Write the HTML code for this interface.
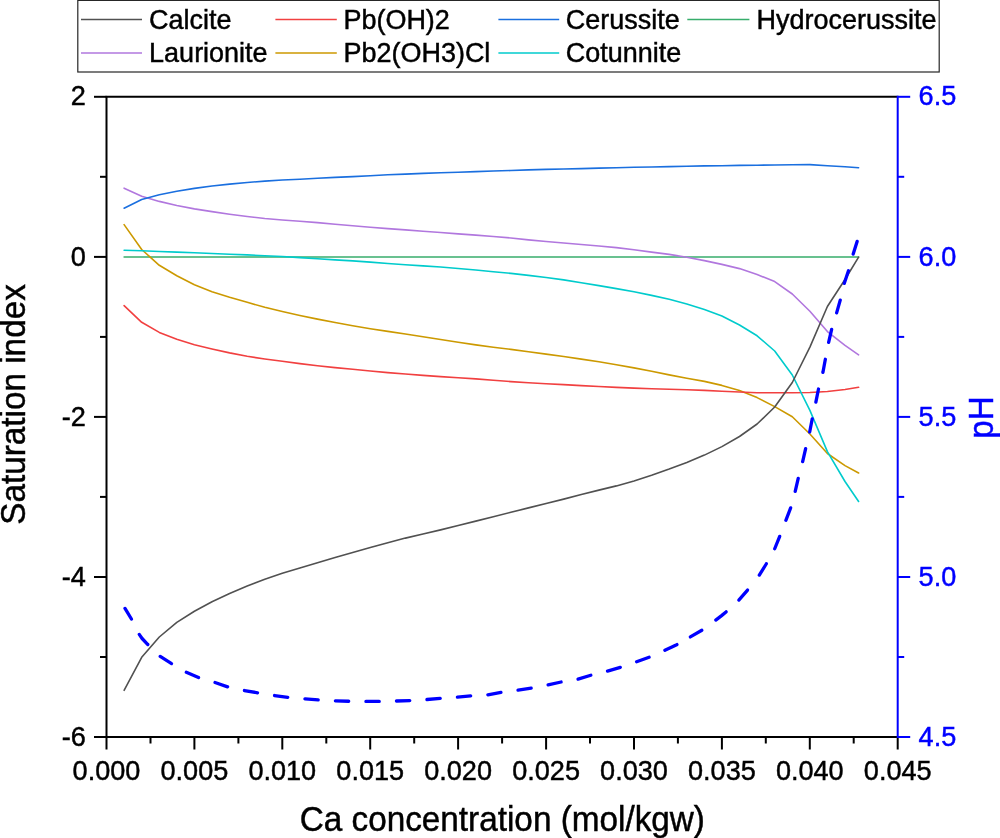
<!DOCTYPE html><html><head><meta charset="utf-8"><title>Saturation index vs Ca concentration</title><style>html,body{margin:0;padding:0;background:#fff;}svg{display:block;}text{font-family:'Liberation Sans', Arial, Helvetica, sans-serif;stroke-width:0.45px;}</style></head><body>
<svg width="1000" height="838" viewBox="0 0 1000 838">
<rect x="0" y="0" width="1000" height="838" fill="#fff"/>
<g fill="none" stroke-width="1.6" stroke-linejoin="round" stroke-linecap="round">
<line x1="124.1" y1="257.0" x2="858.6" y2="257.0" stroke="#37AD6B"/>
<polyline stroke="#CC9900" points="124.1,224.6 141.7,249.5 159.3,265.3 176.8,275.7 194.4,284.8 212.0,291.8 229.6,297.3 247.2,302.3 264.8,307.3 282.3,311.5 299.9,315.5 317.5,319.1 335.1,322.5 352.7,325.7 370.3,328.7 387.8,331.4 405.4,334.0 423.0,336.8 440.6,339.5 458.2,342.2 475.8,344.9 493.3,347.3 510.9,349.4 528.5,351.7 546.1,354.1 563.7,356.5 581.3,359.1 598.9,361.8 616.4,364.8 634.0,367.9 651.6,371.3 669.2,374.9 686.8,378.2 704.4,381.4 721.9,385.4 739.5,390.4 757.1,397.6 774.7,406.6 792.3,416.8 809.9,434.0 827.4,453.5 845.0,465.6 858.6,473.0"/>
<polyline stroke="#F14040" points="124.1,305.6 141.7,322.3 159.3,332.4 176.8,339.3 194.4,344.7 212.0,349.0 229.6,352.9 247.2,356.3 264.8,359.0 282.3,361.3 299.9,363.6 317.5,365.7 335.1,367.6 352.7,369.3 370.3,371.0 387.8,372.6 405.4,374.0 423.0,375.4 440.6,376.6 458.2,377.8 475.8,378.9 493.3,380.2 510.9,381.6 528.5,382.7 546.1,383.7 563.7,384.6 581.3,385.6 598.9,386.5 616.4,387.4 634.0,388.1 651.6,388.7 669.2,389.3 686.8,389.8 704.4,390.4 721.9,391.2 739.5,392.0 757.1,392.7 774.7,392.8 792.3,392.8 809.9,392.5 827.4,391.5 845.0,389.5 858.6,387.3"/>
<polyline stroke="#00CBCC" points="124.1,250.2 141.7,250.8 159.3,251.5 176.8,252.1 194.4,252.8 212.0,253.5 229.6,254.2 247.2,254.9 264.8,255.7 282.3,256.5 299.9,257.6 317.5,258.8 335.1,259.9 352.7,260.9 370.3,262.1 387.8,263.5 405.4,264.8 423.0,265.9 440.6,267.0 458.2,268.5 475.8,270.0 493.3,271.7 510.9,273.4 528.5,275.4 546.1,277.5 563.7,279.9 581.3,282.7 598.9,285.6 616.4,288.6 634.0,291.8 651.6,295.4 669.2,299.3 686.8,303.9 704.4,309.4 721.9,316.0 739.5,325.0 757.1,335.8 774.7,351.0 792.3,375.0 809.9,410.4 827.4,451.6 845.0,481.5 858.6,501.5"/>
<polyline stroke="#B177DE" points="124.1,188.2 141.7,196.3 159.3,201.4 176.8,205.5 194.4,208.9 212.0,211.6 229.6,214.2 247.2,216.5 264.8,218.5 282.3,220.0 299.9,221.2 317.5,222.6 335.1,224.2 352.7,225.7 370.3,227.2 387.8,228.6 405.4,229.9 423.0,231.2 440.6,232.5 458.2,233.9 475.8,235.1 493.3,236.5 510.9,238.0 528.5,239.9 546.1,241.5 563.7,243.0 581.3,244.5 598.9,246.0 616.4,247.6 634.0,249.8 651.6,252.1 669.2,254.4 686.8,257.2 704.4,260.6 721.9,264.4 739.5,268.6 757.1,274.5 774.7,281.6 792.3,294.0 809.9,311.2 827.4,331.6 845.0,345.4 858.6,354.8"/>
<polyline stroke="#1A6FDF" points="124.1,208.2 141.7,199.5 159.3,194.8 176.8,191.2 194.4,188.4 212.0,186.0 229.6,184.1 247.2,182.5 264.8,181.1 282.3,180.0 299.9,179.2 317.5,178.3 335.1,177.4 352.7,176.6 370.3,175.7 387.8,174.8 405.4,174.1 423.0,173.4 440.6,172.8 458.2,172.2 475.8,171.6 493.3,171.0 510.9,170.5 528.5,169.9 546.1,169.4 563.7,169.0 581.3,168.6 598.9,168.1 616.4,167.7 634.0,167.3 651.6,167.0 669.2,166.6 686.8,166.2 704.4,165.9 721.9,165.7 739.5,165.4 757.1,165.2 774.7,165.0 792.3,164.8 809.9,164.6 827.4,165.7 845.0,166.8 858.6,167.7"/>
<polyline stroke="#515151" points="124.1,690.3 141.7,657.3 159.3,637.0 176.8,622.4 194.4,611.3 212.0,601.8 229.6,593.6 247.2,586.0 264.8,579.2 282.3,573.3 299.9,568.0 317.5,562.7 335.1,557.4 352.7,552.4 370.3,547.6 387.8,542.8 405.4,538.1 423.0,534.0 440.6,529.9 458.2,525.5 475.8,521.1 493.3,516.7 510.9,512.3 528.5,507.9 546.1,503.5 563.7,499.1 581.3,494.5 598.9,490.1 616.4,485.9 634.0,480.9 651.6,475.3 669.2,469.1 686.8,462.4 704.4,455.1 721.9,446.6 739.5,436.5 757.1,424.0 774.7,407.0 792.3,382.5 809.9,347.1 827.4,306.5 845.0,279.5 858.6,257.2"/>
</g>
<polyline fill="none" stroke="#0000FF" stroke-width="3.3" stroke-linecap="round" stroke-linejoin="round" stroke-dasharray="13.3 17.24" stroke-dashoffset="0.90" points="125.0,608.4 131.6,619.3 139.4,634.6 142.1,638.5 147.6,644.3 159.8,656.2 171.2,663.4 185.8,672.1 198.9,677.7 214.9,682.5 228.1,687.0 244.4,690.5 258.6,693.0 274.4,695.5 288.6,697.5 305.1,698.8 319.4,700.0 335.6,700.8 349.9,701.3 365.6,701.4 380.1,701.4 396.4,701.0 410.6,700.5 426.9,699.5 441.1,698.3 457.5,697.2 471.3,695.9 487.4,694.9 501.7,692.3 518.1,690.2 531.6,688.1 547.7,685.0 561.5,681.9 577.6,679.3 591.4,675.1 607.0,671.2 620.5,667.3 635.6,662.1 649.1,657.2 664.2,650.7 676.7,644.7 684.4,640.3"/>
<polyline fill="none" stroke="#0000FF" stroke-width="3.3" stroke-linecap="round" stroke-linejoin="round" stroke-dasharray="13.3 17.24" stroke-dashoffset="23.72" points="684.4,640.3 690.2,637.0 702.0,630.2 715.6,620.2 721.6,615.6 726.0,612.0 738.4,600.6 747.6,590.0 754.0,581.9"/>
<polyline fill="none" stroke="#0000FF" stroke-width="3.3" stroke-linecap="round" stroke-linejoin="round" stroke-dasharray="13.3 17.24" stroke-dashoffset="21.92" points="754.0,581.9 759.0,575.6 766.2,564.0 774.6,549.0 779.6,536.6 785.6,521.0 790.8,507.5 795.1,491.8 798.3,478.0 802.6,461.9 805.8,448.0 809.6,432.4 812.2,419.0 815.8,402.4 818.6,388.5 823.0,372.0 825.4,359.0 828.6,342.5 831.8,328.7 836.6,313.0 840.6,298.8 844.4,283.0 848.7,270.0 853.2,254.0 858.2,238.0"/>
<g stroke="#000" stroke-width="2" fill="none" stroke-linecap="butt">
<path d="M105.5 96.8 H897.7"/>
<path d="M105.5 737.0 H897.7"/>
<path d="M106.5 96.8 V737.0"/>
<path d="M94.0 96.8 H106.5"/>
<path d="M100.0 176.8 H106.5"/>
<path d="M94.0 256.9 H106.5"/>
<path d="M100.0 336.9 H106.5"/>
<path d="M94.0 416.9 H106.5"/>
<path d="M100.0 496.9 H106.5"/>
<path d="M94.0 577.0 H106.5"/>
<path d="M100.0 657.0 H106.5"/>
<path d="M94.0 737.0 H106.5"/>
<path d="M106.5 737.0 V749.5"/>
<path d="M150.5 737.0 V743.5"/>
<path d="M194.4 737.0 V749.5"/>
<path d="M238.4 737.0 V743.5"/>
<path d="M282.3 737.0 V749.5"/>
<path d="M326.3 737.0 V743.5"/>
<path d="M370.2 737.0 V749.5"/>
<path d="M414.2 737.0 V743.5"/>
<path d="M458.1 737.0 V749.5"/>
<path d="M502.1 737.0 V743.5"/>
<path d="M546.1 737.0 V749.5"/>
<path d="M590.0 737.0 V743.5"/>
<path d="M634.0 737.0 V749.5"/>
<path d="M677.9 737.0 V743.5"/>
<path d="M721.9 737.0 V749.5"/>
<path d="M765.8 737.0 V743.5"/>
<path d="M809.8 737.0 V749.5"/>
<path d="M853.7 737.0 V743.5"/>
<path d="M897.7 737.0 V749.5"/>
</g>
<g stroke="#0000FF" stroke-width="2" fill="none">
<path d="M897.7 95.8 V738.0"/>
<path d="M897.7 96.8 H910.2"/>
<path d="M897.7 176.8 H904.2"/>
<path d="M897.7 256.9 H910.2"/>
<path d="M897.7 336.9 H904.2"/>
<path d="M897.7 416.9 H910.2"/>
<path d="M897.7 496.9 H904.2"/>
<path d="M897.7 577.0 H910.2"/>
<path d="M897.7 657.0 H904.2"/>
<path d="M897.7 737.0 H910.2"/>
</g>
<g font-size="27.1" fill="#000" stroke="#000">
<text transform="translate(85.8 105.4) scale(1 1.040)" text-anchor="end">2</text>
<text transform="translate(85.8 265.5) scale(1 1.040)" text-anchor="end">0</text>
<text transform="translate(85.8 425.5) scale(1 1.040)" text-anchor="end">-2</text>
<text transform="translate(85.8 585.6) scale(1 1.040)" text-anchor="end">-4</text>
<text transform="translate(85.8 745.6) scale(1 1.040)" text-anchor="end">-6</text>
<text transform="translate(106.5 780.0) scale(1 1.040)" text-anchor="middle">0.000</text>
<text transform="translate(194.4 780.0) scale(1 1.040)" text-anchor="middle">0.005</text>
<text transform="translate(282.3 780.0) scale(1 1.040)" text-anchor="middle">0.010</text>
<text transform="translate(370.2 780.0) scale(1 1.040)" text-anchor="middle">0.015</text>
<text transform="translate(458.1 780.0) scale(1 1.040)" text-anchor="middle">0.020</text>
<text transform="translate(546.1 780.0) scale(1 1.040)" text-anchor="middle">0.025</text>
<text transform="translate(634.0 780.0) scale(1 1.040)" text-anchor="middle">0.030</text>
<text transform="translate(721.9 780.0) scale(1 1.040)" text-anchor="middle">0.035</text>
<text transform="translate(809.8 780.0) scale(1 1.040)" text-anchor="middle">0.040</text>
<text transform="translate(897.7 780.0) scale(1 1.040)" text-anchor="middle">0.045</text>
</g>
<g font-size="27.1" fill="#0000FF" stroke="#0000FF">
<text transform="translate(918.6 105.4) scale(1 1.040)">6.5</text>
<text transform="translate(918.6 265.5) scale(1 1.040)">6.0</text>
<text transform="translate(918.6 425.5) scale(1 1.040)">5.5</text>
<text transform="translate(918.6 585.6) scale(1 1.040)">5.0</text>
<text transform="translate(918.6 745.6) scale(1 1.040)">4.5</text>
</g>
<text font-size="33.3" transform="translate(502.3 830.6) scale(1 1.04)" stroke="#000" text-anchor="middle">Ca concentration (mol/kgw)</text>
<text font-size="33.3" transform="translate(24.5 404.5) rotate(-90) scale(1 1.04)" stroke="#000" text-anchor="middle">Saturation index</text>
<text font-size="33.3" fill="#0000FF" stroke="#0000FF" transform="translate(993 417.5) rotate(-90) scale(1 1.04)" text-anchor="middle">pH</text>
<rect x="77.8" y="0.4" width="861.4" height="71.6" fill="none" stroke="#262626" stroke-width="1.2"/>
<g stroke-width="1.6">
<line x1="81.0" y1="19.5" x2="142.0" y2="19.5" stroke="#515151"/>
<line x1="275.4" y1="19.5" x2="336.8" y2="19.5" stroke="#F14040"/>
<line x1="498.4" y1="19.5" x2="559.2" y2="19.5" stroke="#1A6FDF"/>
<line x1="687.3" y1="19.5" x2="749.4" y2="19.5" stroke="#37AD6B"/>
<line x1="81.0" y1="53.0" x2="142.0" y2="53.0" stroke="#B177DE"/>
<line x1="275.4" y1="53.0" x2="336.8" y2="53.0" stroke="#CC9900"/>
<line x1="498.4" y1="53.0" x2="559.2" y2="53.0" stroke="#00CBCC"/>
</g>
<g font-size="27.0" fill="#000" stroke="#000">
<text transform="translate(149.1 28.7) scale(1 1.040)">Calcite</text>
<text transform="translate(343.4 28.7) scale(1 1.040)">Pb(OH)2</text>
<text transform="translate(565.8 28.7) scale(1 1.040)">Cerussite</text>
<text transform="translate(756.6 28.7) scale(1 1.040)">Hydrocerussite</text>
<text transform="translate(149.1 61.6) scale(1 1.040)">Laurionite</text>
<text transform="translate(343.4 61.6) scale(1 1.040)">Pb2(OH3)Cl</text>
<text transform="translate(565.8 61.6) scale(1 1.040)">Cotunnite</text>
</g>
</svg></body></html>
